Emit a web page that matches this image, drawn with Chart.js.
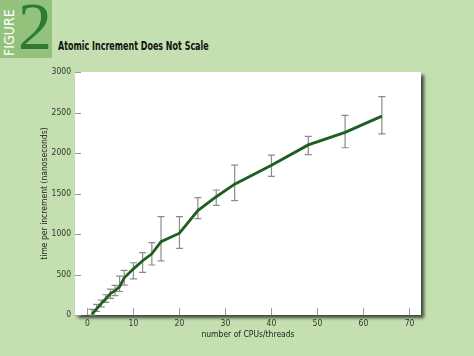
<!DOCTYPE html>
<html>
<head>
<meta charset="utf-8">
<script src="https://cdn.jsdelivr.net/npm/chart.js@4"></script>
<style>
  html, body { margin: 0; padding: 0; }
  body { width: 474px; height: 356px; background: #c4e0b0; position: relative; overflow: hidden; font-family: 'DejaVu Sans Condensed', 'Liberation Sans', sans-serif; }
  #figbox { position: absolute; left: 0; top: 0; width: 52px; height: 58px; background: #92c27c; }
  #figword { position: absolute; left: 2px; top: 56px; transform-origin: 0 0; transform: rotate(-90deg); color: #ffffff; font-family: 'DejaVu Sans Condensed', sans-serif; font-size: 14px; letter-spacing: 0px; line-height: 15px; white-space: nowrap; }
  #fignum { position: absolute; left: 18px; top: -8px; color: #2f7a33; font-family: 'Liberation Serif', 'DejaVu Serif', serif; font-size: 68px; line-height: 68px; }
  #title { position: absolute; left: 58px; top: 38px; font-size: 12.5px; font-weight: bold; color: #111; white-space: nowrap; transform-origin: 0 0; transform: scaleX(0.71); }
  #wrap { position: absolute; left: 0; top: 0; width: 474px; height: 356px; }
</style>
</head>
<body>
<div id="figbox"></div>
<div id="figword">FIGURE</div>
<div id="fignum">2</div>
<div id="title">Atomic Increment Does Not Scale</div>
<div id="wrap"><canvas id="c" width="474" height="356"></canvas></div>
<script>
// ---- data ----
const threads = [1, 2, 3, 4, 5, 6, 7, 8, 10, 12, 14, 16, 20, 24, 28, 32, 40, 48, 56, 64];
const timeNs  = [10, 75, 140, 200, 265, 300, 350, 460, 570, 670, 755, 905, 1010, 1290, 1460, 1615, 1850, 2100, 2255, 2455];
const errLow  = [0, 45, 100, 155, 205, 240, 290, 370, 445, 527, 617, 667, 823, 1189, 1354, 1411, 1712, 1979, 2065, 2235];
const errHigh = [70, 130, 185, 250, 320, 365, 480, 550, 645, 769, 893, 1214, 1214, 1448, 1543, 1850, 1975, 2206, 2465, 2695];
const xTickValues = [0, 10, 20, 30, 40, 50, 60, 70];
const yTickValues = [0, 500, 1000, 1500, 2000, 2500, 3000];
const xTitle = 'number of CPUs/threads';
const yTitle = 'time per increment (nanoseconds)';

const tickFont = { family: "'DejaVu Sans Condensed', sans-serif", size: 8.5 };

const plotBg = {
  id: 'plotBg',
  beforeDraw(chart) {
    const { ctx, chartArea: a } = chart;
    ctx.save();
    ctx.shadowColor = 'rgba(40,50,40,0.85)';
    ctx.shadowBlur = 3;
    ctx.shadowOffsetX = 3;
    ctx.shadowOffsetY = 3;
    ctx.fillStyle = '#ffffff';
    ctx.fillRect(a.left, a.top, a.right - a.left, a.bottom - a.top);
    ctx.restore();
  }
};

const errorBars = {
  id: 'errorBars',
  beforeDatasetsDraw(chart) {
    const { ctx, scales: { x, y } } = chart;
    ctx.save();
    ctx.strokeStyle = '#8c8c8c';
    ctx.lineWidth = 1.2;
    threads.forEach((t, i) => {
      const px = x.getPixelForValue(t);
      const pl = y.getPixelForValue(errLow[i]);
      const ph = y.getPixelForValue(errHigh[i]);
      ctx.beginPath();
      ctx.moveTo(px, pl); ctx.lineTo(px, ph);
      ctx.moveTo(px - 3.5, pl); ctx.lineTo(px + 3.5, pl);
      ctx.moveTo(px - 3.5, ph); ctx.lineTo(px + 3.5, ph);
      ctx.stroke();
    });
    ctx.restore();
  }
};

const innerTicks = {
  id: 'innerTicks',
  afterDatasetsDraw(chart) {
    const { ctx, chartArea: a, scales: { x, y } } = chart;
    ctx.save();
    ctx.strokeStyle = '#9a9a9a';
    ctx.lineWidth = 1;
    x.ticks.forEach(t => {
      const px = Math.round(x.getPixelForValue(t.value)) + 0.5;
      ctx.beginPath(); ctx.moveTo(px, a.bottom); ctx.lineTo(px, a.bottom - 7); ctx.stroke();
    });
    y.ticks.forEach(t => {
      const py = Math.round(y.getPixelForValue(t.value)) + 0.5;
      ctx.beginPath(); ctx.moveTo(a.left, py); ctx.lineTo(a.left + 6, py); ctx.stroke();
    });
    ctx.restore();
  }
};

new Chart(document.getElementById('c'), {
  type: 'line',
  data: {
    datasets: [{
      data: threads.map((t, i) => ({ x: t, y: timeNs[i] })),
      borderColor: '#1d5e22',
      borderWidth: 2.8,
      pointRadius: 0,
      tension: 0,
      fill: false
    }]
  },
  options: {
    responsive: false,
    animation: false,
    events: [],
    layout: { padding: { top: 72, right: 53, left: 0, bottom: 0 } },
    plugins: { legend: { display: false }, tooltip: { enabled: false } },
    scales: {
      x: {
        type: 'linear',
        min: -2.7,
        max: 72.5,
        afterBuildTicks: s => { s.ticks = xTickValues.map(v => ({ value: v })); },
        afterFit: s => { s.height = 41; },
        grid: { display: false, drawTicks: false },
        border: { display: false },
        ticks: { font: tickFont, color: '#333', padding: 4, maxRotation: 0, autoSkip: false, callback: v => String(v) },
        title: { display: true, text: xTitle, font: tickFont, color: '#222', padding: { top: 0, bottom: 16 } }
      },
      y: {
        type: 'linear',
        min: 0,
        max: 3000,
        afterBuildTicks: s => { s.ticks = yTickValues.map(v => ({ value: v })); },
        afterFit: s => { s.width = 75; },
        grid: { display: false, drawTicks: false },
        border: { display: false },
        ticks: { font: tickFont, color: '#333', padding: 4, autoSkip: false, callback: v => String(v) },
        title: { display: true, text: yTitle, font: tickFont, color: '#222', padding: { top: 40, bottom: 0 } }
      }
    }
  },
  plugins: [plotBg, errorBars, innerTicks]
});
</script>
</body>
</html>
